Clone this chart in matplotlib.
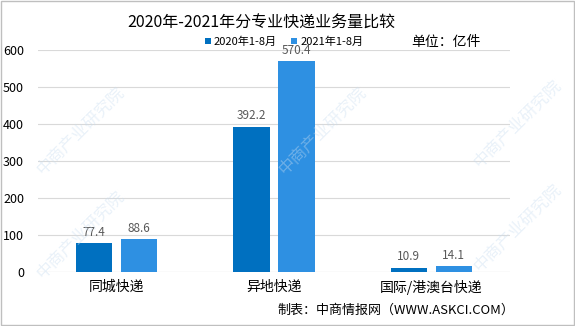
import matplotlib
matplotlib.use("Agg")
import matplotlib.pyplot as plt
import numpy as np

plt.rcParams['font.family'] = ['Noto Sans CJK SC', 'DejaVu Sans']

categories = ['同城快递', '异地快递', '国际/港澳台快递']
series_names = ['2020年1-8月', '2021年1-8月']
vals_2020 = [77.4, 392.2, 10.9]
vals_2021 = [88.6, 570.4, 14.1]
colors = ['#0070C0', '#2E90E2']

fig = plt.figure(figsize=(5.75, 3.26), dpi=100)
ax = fig.add_axes([0.066, 0.1666, 0.821, 0.68])

x = np.arange(len(categories))
w = 0.23
gap = 0.028
b1 = ax.bar(x - w / 2 - gap, vals_2020, w, color=colors[0], label=series_names[0], zorder=3)
b2 = ax.bar(x + w / 2 + gap, vals_2021, w, color=colors[1], label=series_names[1], zorder=3)
for bars in (b1, b2):
    for r in bars:
        ax.text(r.get_x() + r.get_width() / 2, r.get_height() + 12, '%.1f' % r.get_height(),
                ha='center', va='bottom', fontsize=8.5, color='#595959', zorder=4)

ax.set_xlim(-0.5, 2.5)
ax.set_ylim(0, 600)
ax.set_yticks(range(0, 601, 100))
ax.yaxis.grid(True, color='#D9D9D9', linewidth=0.8, zorder=0)
for s in ax.spines.values():
    s.set_visible(False)
ax.tick_params(axis='both', length=0)
ax.tick_params(axis='y', labelsize=9, pad=10)
ax.tick_params(axis='x', labelsize=10, pad=6)
ax.set_xticks(x)
ax.set_xticklabels(categories)
ax.axhline(0, color='#D9D9D9', linewidth=0.8, zorder=2)

fig.text(0.454, 0.93, '2020年-2021年分专业快递业务量比较', ha='center', va='center', fontsize=11.5)
fig.legend(loc='center', bbox_to_anchor=(0.494, 0.872), ncol=2, frameon=False, fontsize=8,
           handlelength=0.55, handleheight=0.55, handletextpad=0.25, columnspacing=1.3)
fig.text(0.715, 0.872, '单位：亿件', ha='left', va='center', fontsize=10)
fig.text(0.895, 0.048, '制表：中商情报网（WWW.ASKCI.COM）', ha='right', va='center', fontsize=9.4)

# faint watermark, kept clear of the labels
for wx, wy in [(0.14, 0.6), (0.56, 0.6), (0.9, 0.62), (0.14, 0.28), (0.9, 0.3)]:
    fig.text(wx, wy, '中商产业研究院', rotation=45, fontsize=12, color='#C9DDF0', alpha=0.4,
             ha='center', va='center', zorder=0)

fig.patches.append(plt.Rectangle((0.001, 0.002), 0.997, 0.995, transform=fig.transFigure,
                                 fill=False, edgecolor='#BFBFBF', linewidth=1))
fig.savefig('out.png', dpi=100)
